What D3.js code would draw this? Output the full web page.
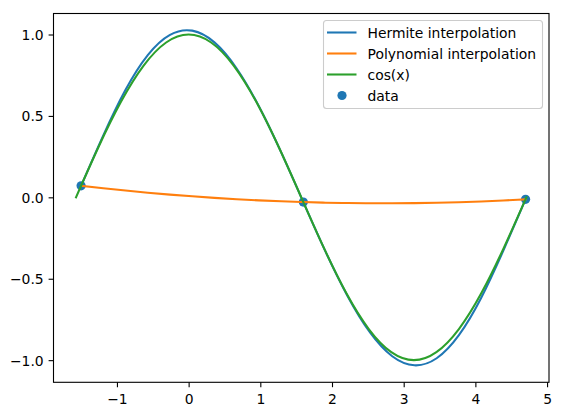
<!DOCTYPE html>
<html lang="en">
  <head>
    <meta charset="UTF-8" />
    <title>Hermite vs polynomial interpolation</title>
    <style>
      body { margin: 0; background: white; }
      text { font-family: "DejaVu Sans", sans-serif; font-size: 13.9px; fill: #000; }
    </style>
  </head>
  <body>
    <svg id="svg" width="562" height="416"></svg>
    <script src="https://cdn.jsdelivr.net/npm/d3@7"></script>
    <script>
      // values
      const hermiteX = [-1.5, -1.19, -0.88, -0.57, -0.26, 0.05, 0.36, 0.67, 0.98, 1.29, 1.6,
                        1.91, 2.22, 2.53, 2.84, 3.15, 3.46, 3.77, 4.08, 4.39, 4.7];
      const hermiteY = [0.0707, 0.3808, 0.6605, 0.8737, 0.998, 1.0237, 0.9515, 0.7912, 0.5592, 0.2773, -0.0292,
                        -0.3334, -0.6086, -0.8298, -0.9761, -1.0317, -0.9883, -0.8466, -0.6183, -0.3272, -0.0124];
      const polyX = hermiteX;
      const polyY = [0.0707, 0.0555, 0.0414, 0.0285, 0.0168, 0.0062, -0.0032, -0.0115, -0.0186, -0.0245, -0.0292,
                     -0.0328, -0.0352, -0.0364, -0.0365, -0.0354, -0.0331, -0.0297, -0.0251, -0.0193, -0.0124];
      const cosX = [-1.571, -1.257, -0.942, -0.628, -0.314, 0, 0.314, 0.628, 0.942, 1.257, 1.571,
                    1.885, 2.199, 2.513, 2.827, 3.142, 3.456, 3.77, 4.084, 4.398, 4.712];
      const cosY = [0, 0.309, 0.588, 0.809, 0.951, 1, 0.951, 0.809, 0.588, 0.309, 0,
                    -0.309, -0.588, -0.809, -0.951, -1, -0.951, -0.809, -0.588, -0.309, 0];
      const dataX = [-1.5, 1.6, 4.7];
      const dataY = [0.0707, -0.0292, -0.0124];

      const xTicks = [-1, 0, 1, 2, 3, 4, 5];
      const yTicks = [-1.0, -0.5, 0.0, 0.5, 1.0];
      const legendLabels = ["Hermite interpolation", "Polynomial interpolation", "cos(x)", "data"];

      const colors = { hermite: "#1f77b4", poly: "#ff7f0e", cos: "#2ca02c", data: "#1f77b4" };

      // plot area
      const plotLeft = 53.5, plotRight = 549, plotTop = 13.5, plotBottom = 382.3;

      const svg = d3.select("#svg");

      const x = d3.scaleLinear().domain([-1.885, 5.027]).range([plotLeft, plotRight]);
      const y = d3.scaleLinear().domain([-1.136, 1.129]).range([plotBottom, plotTop]);

      const minus = (s) => s.replace("-", "\u2212");

      // x-axis
      const xaxis = svg.append("g")
        .attr("transform", `translate(0, ${plotBottom})`)
        .call(d3.axisBottom(x).tickValues(xTicks).tickSize(4.9).tickPadding(4.9)
          .tickFormat((d) => minus(d3.format("d")(d))));
      xaxis.select(".domain").remove();
      xaxis.selectAll(".tick line").attr("stroke", "#000").attr("stroke-width", 1.1);
      xaxis.selectAll("text").attr("font-size", null).attr("font-family", null)
        .attr("dy", null).attr("y", 21.3);

      // y-axis
      const yaxis = svg.append("g")
        .attr("transform", `translate(${plotLeft}, 0)`)
        .call(d3.axisLeft(y).tickValues(yTicks).tickSize(4.9).tickPadding(4.9)
          .tickFormat((d) => minus(d3.format(".1f")(d))));
      yaxis.select(".domain").remove();
      yaxis.selectAll(".tick line").attr("stroke", "#000").attr("stroke-width", 1.1);
      yaxis.selectAll("text").attr("font-size", null).attr("font-family", null)
        .attr("dy", "0.36em");

      // data points sit under the lines
      svg.append("g")
        .selectAll("circle")
        .data(dataX.map((d, i) => [d, dataY[i]]))
        .enter()
        .append("circle")
        .attr("cx", (d) => x(d[0]))
        .attr("cy", (d) => y(d[1]))
        .attr("r", 4.6)
        .attr("fill", colors.data);

      const line = d3.line()
        .x((d) => x(d[0]))
        .y((d) => y(d[1]))
        .curve(d3.curveNatural);

      const series = [
        [hermiteX, hermiteY, colors.hermite],
        [polyX, polyY, colors.poly],
        [cosX, cosY, colors.cos],
      ];
      series.forEach(([xs, ys, c]) => {
        svg.append("path")
          .datum(xs.map((d, i) => [d, ys[i]]))
          .attr("d", line)
          .attr("fill", "none")
          .attr("stroke", c)
          .attr("stroke-width", 2.08)
          .attr("stroke-linecap", "square");
      });

      // frame
      svg.append("rect")
        .attr("x", plotLeft).attr("y", plotTop)
        .attr("width", plotRight - plotLeft).attr("height", plotBottom - plotTop)
        .attr("fill", "none").attr("stroke", "#000").attr("stroke-width", 1.1);

      // legend
      const legend = svg.append("g");
      legend.append("rect")
        .attr("x", 323.5).attr("y", 20.5)
        .attr("width", 219).attr("height", 88)
        .attr("rx", 3)
        .attr("fill", "white").attr("fill-opacity", 0.8)
        .attr("stroke", "#cccccc").attr("stroke-width", 1.1);

      const legendColors = [colors.hermite, colors.poly, colors.cos, colors.data];
      legendLabels.forEach((label, i) => {
        const cy = 32.5 + i * 21;
        if (i < 3) {
          legend.append("line")
            .attr("x1", 327).attr("x2", 356.5)
            .attr("y1", cy).attr("y2", cy)
            .attr("stroke", legendColors[i]).attr("stroke-width", 2.08);
        } else {
          legend.append("circle")
            .attr("cx", 342).attr("cy", cy).attr("r", 4.6)
            .attr("fill", legendColors[i]);
        }
        legend.append("text")
          .attr("x", 367.5).attr("y", cy).attr("dy", "0.36em")
          .text(label);
      });
    </script>
  </body>
</html>
